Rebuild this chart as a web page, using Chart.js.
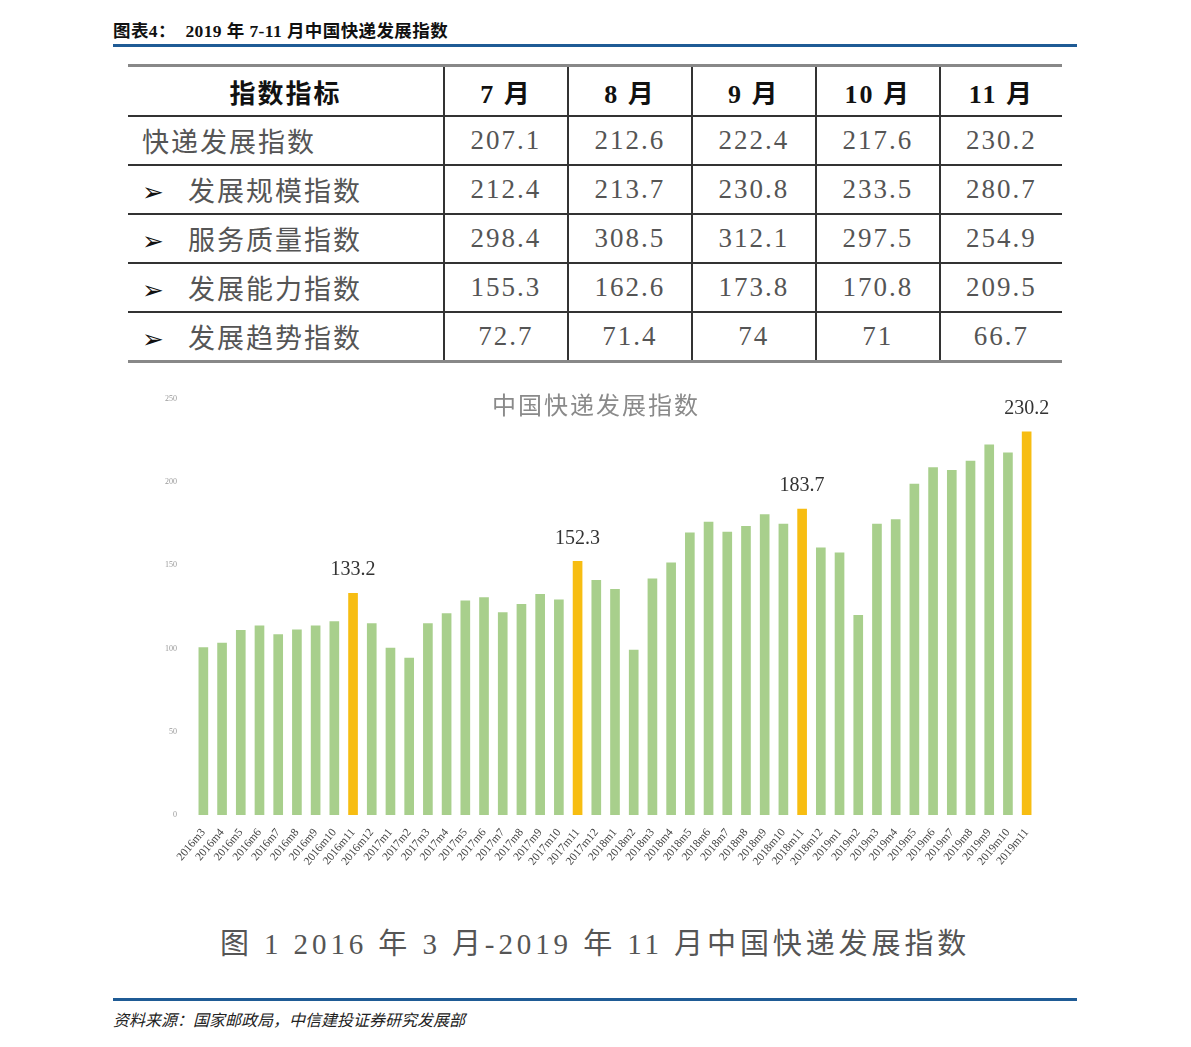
<!DOCTYPE html>
<html>
<head>
<meta charset="utf-8">
<script src="https://cdn.jsdelivr.net/npm/chart.js@4/dist/chart.umd.min.js"></script>
<style>
  body { margin: 0; background: #fff; width: 1191px; height: 1047px; position: relative; overflow: hidden; font-family: "Noto Sans CJK SC", sans-serif; }
  .abs { position: absolute; }
  #head { left: 113px; top: 17px; font-size: 17.5px; letter-spacing: 0.4px; font-weight: bold; color: #111; font-family: "Liberation Serif", "Noto Sans CJK SC", serif; white-space: pre; }
  .blue { left: 113px; width: 964px; height: 3px; background: #1f5b95; }
  #tbl { left: 128px; top: 64px; width: 934px; border-collapse: collapse; font-family: "Liberation Serif", "Noto Sans CJK SC", serif; }
  #tbl td, #tbl th { padding: 0; height: 47px; border-bottom: 2px solid #333; border-left: 2px solid #333; text-align: center; color: #555; font-size: 27px; letter-spacing: 2px; font-weight: normal; }
  #tbl tr > :first-child { border-left: none; text-align: left; }
  #tbl th { color: #111; font-weight: bold; height: 48px; font-size: 26px; }
  #tbl tr:first-child th { border-top: 3px solid #888; }
  #tbl tr:first-child th:first-child { text-align: center; }
  #tbl tr:last-child td { border-bottom: 3px solid #888; }
  #tbl .lab { padding-left: 14px; }
  #tbl .arr { display: inline-block; width: 46px; color: #111; font-size: 26px; font-family: "DejaVu Sans", sans-serif; }
  #ctitle { left: 492px; top: 386px; font-size: 24px; color: #8a8a8a; letter-spacing: 2px; }
  #chartWrap { left: 140px; top: 385px; }
  #cap { left: 220px; top: 920px; font-size: 29px; color: #555; letter-spacing: 3.9px; font-family: "Liberation Serif", "Noto Sans CJK SC", serif; white-space: pre; }
  #src { left: 113px; top: 1007px; font-size: 16px; font-style: italic; color: #222; }
</style>
</head>
<body>
<div id="head" class="abs">图表4：  2019 年 7-11 月中国快递发展指数</div>
<div class="abs blue" style="top:44px"></div>
<table id="tbl" class="abs"></table>
<div id="chartWrap" class="abs"><canvas id="chart" width="910" height="500"></canvas></div>
<div id="ctitle" class="abs">中国快递发展指数</div>
<div id="cap" class="abs">图 1 2016 年 3 月-2019 年 11 月中国快递发展指数</div>
<div class="abs blue" style="top:998px"></div>
<div id="src" class="abs">资料来源：国家邮政局，中信建投证券研究发展部</div>

<script>
// 表格数据
var tableMonths = ['7 月', '8 月', '9 月', '10 月', '11 月'];
var tableRows = ['快递发展指数', '发展规模指数', '服务质量指数', '发展能力指数', '发展趋势指数'];
var tableValues = [
  ['207.1', '212.6', '222.4', '217.6', '230.2'],
  ['212.4', '213.7', '230.8', '233.5', '280.7'],
  ['298.4', '308.5', '312.1', '297.5', '254.9'],
  ['155.3', '162.6', '173.8', '170.8', '209.5'],
  ['72.7', '71.4', '74', '71', '66.7']
];

// 图表数据 2016m3 - 2019m11
var months = [];
for (var y = 2016; y <= 2019; y++) {
  for (var m = 1; m <= 12; m++) {
    if (y === 2016 && m < 3) continue;
    if (y === 2019 && m > 11) continue;
    months.push(y + 'm' + m);
  }
}
var indexValues = [
  100.6, 103.2, 111.0, 113.6, 108.3, 111.2, 113.6, 116.2, 133.2, 115.0,
  100.3, 94.3, 115.0, 121.0, 128.6, 130.6, 121.6, 126.6, 132.6, 129.2, 152.3, 141.0,
  135.6, 99.1, 141.9, 151.5, 169.5, 176.0, 170.0, 173.4, 180.4, 174.8, 183.7, 160.5,
  157.5, 120.0, 174.8, 177.4, 198.8, 208.7, 207.1, 212.6, 222.4, 217.6, 230.2
];
var highlighted = ['2016m11', '2017m11', '2018m11', '2019m11'];
var yTicks = [0, 50, 100, 150, 200, 250];

// 生成表格
var tbl = document.getElementById('tbl');
var html = '<tr><th style="width:315px">指数指标</th>';
tableMonths.forEach(function(mo) { html += '<th>' + mo + '</th>'; });
html += '</tr>';
tableRows.forEach(function(name, i) {
  html += '<tr><td class="lab">' + (i === 0 ? '' : '<span class="arr">➢</span>') + name + '</td>';
  tableValues[i].forEach(function(v) { html += '<td>' + v + '</td>'; });
  html += '</tr>';
});
tbl.innerHTML = html;

// 标注高亮柱的数值
var labelPlugin = {
  id: 'barLabels',
  afterDatasetsDraw: function(chart) {
    var meta = chart.getDatasetMeta(0);
    var c = chart.ctx;
    c.save();
    c.font = '20px "Liberation Serif", serif';
    c.fillStyle = '#333';
    c.textAlign = 'center';
    c.textBaseline = 'bottom';
    meta.data.forEach(function(bar, i) {
      if (highlighted.indexOf(months[i]) >= 0) {
        c.fillText(indexValues[i].toFixed(1), bar.x, bar.y - 13);
      }
    });
    c.restore();
  }
};

var ctx = document.getElementById('chart').getContext('2d');
var chart = new Chart(ctx, {
  type: 'bar',
  data: {
    labels: months,
    datasets: [{
      data: indexValues,
      backgroundColor: months.map(function(mo) { return highlighted.indexOf(mo) >= 0 ? '#f7bd12' : '#a8cf8c'; }),
      barThickness: 9
    }]
  },
  options: {
    responsive: false,
    animation: false,
    devicePixelRatio: 1,
    layout: { padding: { top: 12, right: 14, left: 0, bottom: 0 } },
    plugins: { legend: { display: false }, tooltip: { enabled: false } },
    scales: {
      x: {
        grid: { display: false },
        border: { display: false },
        ticks: {
          autoSkip: false,
          maxRotation: 50,
          minRotation: 50,
          color: '#444',
          padding: 3,
          font: { size: 11.5, family: '"Liberation Serif", serif' }
        },
        afterFit: function(scale) { scale.height = 70; }
      },
      y: {
        min: 0,
        max: 250,
        grid: { display: false },
        border: { display: false },
        afterBuildTicks: function(scale) {
          scale.ticks = yTicks.map(function(v) { return { value: v }; });
        },
        ticks: {
          color: '#999',
          padding: 9,
          font: { size: 8, family: '"Liberation Serif", serif' }
        },
        afterFit: function(scale) { scale.width = 54; }
      }
    }
  },
  plugins: [labelPlugin]
});
</script>
</body>
</html>
